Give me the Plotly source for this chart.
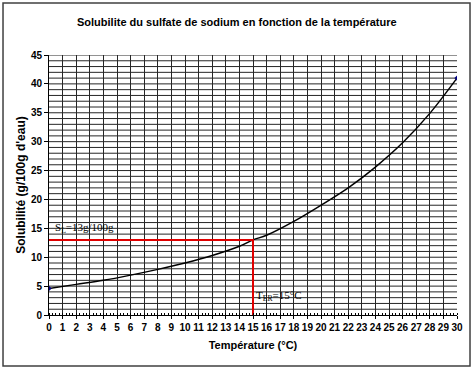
import plotly.graph_objects as go

temperature = [0, 2, 4, 6, 8, 10, 12, 14, 15, 16, 18, 20, 22, 24, 26, 28, 30]
solubility = [4.6, 5.3, 6.0, 6.9, 7.9, 9.0, 10.3, 11.9, 13.0, 13.8, 16.2, 19.0, 22.0, 25.6, 29.8, 34.9, 41.0]
marker_t = [0, 30]
marker_s = [4.6, 41.0]
s_l = 13
t_er = 15
x_ticks = list(range(0, 31))
y_ticks = list(range(0, 46, 5))

fig = go.Figure()
fig.add_trace(go.Scatter(x=temperature, y=solubility, mode="lines",
                         line=dict(color="black", width=1.5, shape="spline"),
                         showlegend=False, hoverinfo="skip"))
fig.add_trace(go.Scatter(x=marker_t, y=marker_s, mode="markers",
                         marker=dict(color="#000080", size=4, symbol="diamond"),
                         showlegend=False))
# red construction lines
fig.add_trace(go.Scatter(x=[0, t_er, t_er], y=[s_l, s_l, 0], mode="lines",
                         line=dict(color="#e00000", width=2), showlegend=False))

grid_col = "#262626"
fig.update_layout(
    width=474, height=370,
    margin=dict(l=49, r=17, t=55, b=55),
    paper_bgcolor="white", plot_bgcolor="white",
    font=dict(family="Liberation Sans, Arial", size=10, color="black"),
    xaxis=dict(range=[0, 30], tickmode="array", tickvals=x_ticks,
               ticktext=[str(v) for v in x_ticks],
               tickfont=dict(size=10, weight="bold"),
               showgrid=True, gridcolor=grid_col, gridwidth=1,
               showline=True, linecolor="black", linewidth=1,
               ticks="outside", ticklen=3, tickcolor="black",
               minor=dict(ticks="inside", ticklen=2, dtick=0.25, tickcolor="black", showgrid=False),
               zeroline=False, fixedrange=True,
               title=dict(text="<b>Température (°C)</b>", font=dict(size=11), standoff=9)),
    yaxis=dict(range=[0, 45], tickmode="array", tickvals=y_ticks,
               tickfont=dict(size=10, weight="bold"),
               showgrid=False,
               showline=True, linecolor="black", linewidth=1,
               ticks="outside", ticklen=4, tickcolor="black",
               zeroline=False, fixedrange=True,
               title=dict(text="<b>Solubilité (g/100g d'eau)</b>", font=dict(size=12), standoff=2)),
)

# horizontal grid every 1 unit
shapes = []
for v in range(1, 46):
    shapes.append(dict(type="line", xref="paper", yref="y", x0=0, x1=1, y0=v, y1=v,
                       line=dict(color=grid_col, width=1), layer="below"))
# outer frame
shapes.append(dict(type="rect", xref="paper", yref="paper",
                   x0=-0.1127, x1=1.0319, y0=-0.196, y1=1.2,
                   line=dict(color="#404040", width=1.5)))
fig.update_layout(shapes=shapes)

fig.add_annotation(text="<b>Solubilite du sulfate de sodium en fonction de la température</b>",
                   xref="paper", yref="paper", x=0.46, y=1.127, showarrow=False,
                   font=dict(size=11), xanchor="center", yanchor="middle")
fig.add_annotation(text="S<sub>L</sub>=13g/100g", x=0.3, y=15.1, xanchor="left", yanchor="middle",
                   showarrow=False, font=dict(family="Liberation Serif, Times New Roman", size=11, color="black"))
fig.add_annotation(text="T<sub>ER</sub>=15°C", x=15.1, y=3.3, xanchor="left", yanchor="middle",
                   showarrow=False, font=dict(family="Liberation Serif, Times New Roman", size=11, color="black"))

fig.write_html("out.html")
